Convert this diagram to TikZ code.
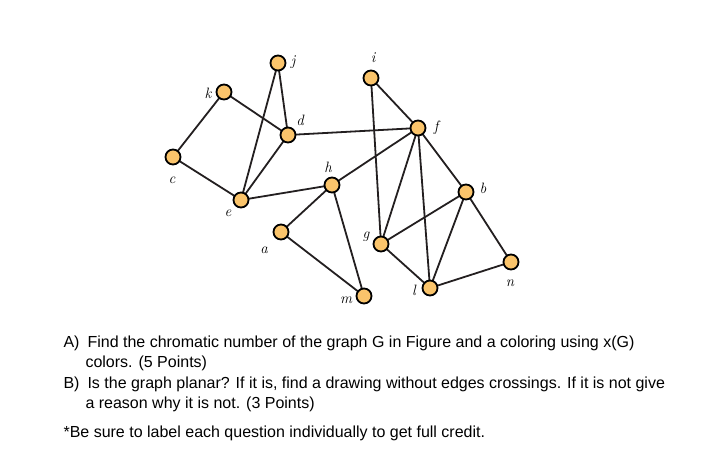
\documentclass[tikz,border=0pt]{standalone}
\usepackage{fontspec}
\newfontfamily\arial{Liberation Sans}
\begin{document}
\begin{tikzpicture}[x=1pt,y=-1pt,
  vtx/.style={circle,draw=black,line width=1.8pt,fill={rgb,255:red,250;green,196;blue,107},minimum size=15pt,inner sep=0pt},
  lbl/.style={font=\itshape\fontsize{15}{15}\selectfont},
  edge/.style={line width=1.8pt,draw={rgb,255:red,35;green,31;blue,32}},
  txt/.style={font=\arial\fontsize{16}{20}\selectfont,anchor=west,align=left}]
\useasboundingbox (0,0) rectangle (708,463);
\coordinate (j) at (278,63);
\coordinate (k) at (224,92);
\coordinate (d) at (288,135);
\coordinate (i) at (371,78);
\coordinate (f) at (418,128);
\coordinate (c) at (173,157);
\coordinate (h) at (332,185);
\coordinate (e) at (241,200);
\coordinate (b) at (466,192);
\coordinate (a) at (281,232);
\coordinate (g) at (381,244);
\coordinate (n) at (511,262);
\coordinate (l) at (430,288);
\coordinate (m) at (364,296);
\foreach \u/\v in {j/d,j/e,k/d,k/c,c/e,e/d,e/h,d/f,i/f,i/g,f/h,f/g,f/l,f/b,h/a,h/m,a/m,b/g,b/l,b/n,n/l,g/l}
  \draw[edge] (\u) -- (\v);
\foreach \v in {j,k,d,i,f,c,h,e,b,a,g,n,l,m}
  \node[vtx] (v\v) at (\v) {};
\node[lbl] (tj) at (293,62) {j};
\node[lbl] (tk) at (208,93) {k};
\node[lbl] (td) at (300,120) {d};
\node[lbl] (ti) at (373,58) {i};
\node[lbl] (tf) at (436,128) {f};
\node[lbl] (tc) at (172,180) {c};
\node[lbl] (th) at (328,167) {h};
\node[lbl] (te) at (228,213) {e};
\node[lbl] (tb) at (483,188) {b};
\node[lbl] (ta) at (264,250) {a};
\node[lbl] (tg) at (366,237) {g};
\node[lbl] (tn) at (510,283) {n};
\node[lbl] (tl) at (414,290) {l};
\node[lbl] (tm) at (346,300) {m};
\node[txt] (qa) at (60,353) {A)\hspace{8pt}Find the chromatic number of the graph G in Figure and a coloring using x(G)\\\hspace{22pt}colors. (5 Points)};
\node[txt] (qb) at (60,394) {B)\hspace{8pt}Is the graph planar? If it is, find a drawing without edges crossings. If it is not give\\\hspace{22pt}a reason why it is not. (3 Points)};
\node[txt] (qc) at (60,433) {*Be sure to label each question individually to get full credit.};
\end{tikzpicture}
\end{document}
